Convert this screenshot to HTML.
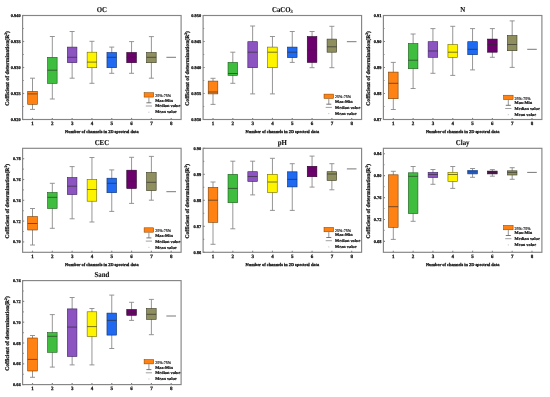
<!DOCTYPE html>
<html><head><meta charset="utf-8"><style>
html,body{margin:0;padding:0;background:#fff;width:550px;height:397px;overflow:hidden}
svg{will-change:transform}
svg text{text-rendering:geometricPrecision;font-family:"Liberation Serif",serif;fill:#111;stroke:#111;stroke-width:0.25px}
</style></head><body>
<svg width="550" height="397" viewBox="0 0 550 397" style="display:block">
<rect width="550" height="397" fill="#fff"/>
<g><text transform="translate(101.85,11.8) scale(0.9,1)" font-size="7.6" text-anchor="middle" font-weight="bold" style="stroke-width:0.12px">OC</text><text transform="translate(7.7,68.4) rotate(-90) scale(1,1.0)" font-size="5.6" text-anchor="middle" font-weight="bold" dominant-baseline="central">Cofficient of determination(R<tspan font-size="3.64" dy="-1.8">2</tspan><tspan dy="1.8">)</tspan></text><text transform="translate(101.85,131.9) scale(1.0,1)" font-size="4.35" text-anchor="middle" font-weight="bold" dominant-baseline="central">Number of channels in 2D spectral data</text><line x1="32.51" y1="78.2" x2="32.51" y2="109.4" stroke="#8a8a8a" stroke-width="0.9"/><line x1="30.01" y1="78.2" x2="35.01" y2="78.2" stroke="#8a8a8a" stroke-width="0.9"/><line x1="30.01" y1="109.4" x2="35.01" y2="109.4" stroke="#8a8a8a" stroke-width="0.9"/><rect x="27.71" y="91.4" width="9.6" height="12.9" fill="#ff8213" stroke="#7a3e00" stroke-width="0.6"/><line x1="27.71" y1="93.9" x2="37.31" y2="93.9" stroke="#2a2a2a" stroke-width="0.8" stroke-opacity="0.8"/><line x1="52.32" y1="36.5" x2="52.32" y2="99" stroke="#8a8a8a" stroke-width="0.9"/><line x1="49.82" y1="36.5" x2="54.82" y2="36.5" stroke="#8a8a8a" stroke-width="0.9"/><line x1="49.82" y1="99" x2="54.82" y2="99" stroke="#8a8a8a" stroke-width="0.9"/><rect x="47.52" y="57.3" width="9.6" height="26.1" fill="#3fbd3f" stroke="#1f5a1f" stroke-width="0.6"/><line x1="47.52" y1="70.2" x2="57.12" y2="70.2" stroke="#2a2a2a" stroke-width="0.8" stroke-opacity="0.8"/><line x1="72.13" y1="31.5" x2="72.13" y2="78.2" stroke="#8a8a8a" stroke-width="0.9"/><line x1="69.63" y1="31.5" x2="74.63" y2="31.5" stroke="#8a8a8a" stroke-width="0.9"/><line x1="69.63" y1="78.2" x2="74.63" y2="78.2" stroke="#8a8a8a" stroke-width="0.9"/><rect x="67.33" y="47.1" width="9.6" height="15.6" fill="#8c54c0" stroke="#3c2460" stroke-width="0.6"/><line x1="67.33" y1="57.3" x2="76.93" y2="57.3" stroke="#2a2a2a" stroke-width="0.8" stroke-opacity="0.8"/><line x1="91.94" y1="41.3" x2="91.94" y2="83.3" stroke="#8a8a8a" stroke-width="0.9"/><line x1="89.44" y1="41.3" x2="94.44" y2="41.3" stroke="#8a8a8a" stroke-width="0.9"/><line x1="89.44" y1="83.3" x2="94.44" y2="83.3" stroke="#8a8a8a" stroke-width="0.9"/><rect x="87.14" y="52.2" width="9.6" height="15.5" fill="#fff400" stroke="#6e6a00" stroke-width="0.6"/><line x1="87.14" y1="62.1" x2="96.74" y2="62.1" stroke="#2a2a2a" stroke-width="0.8" stroke-opacity="0.8"/><line x1="111.76" y1="47.1" x2="111.76" y2="73.3" stroke="#8a8a8a" stroke-width="0.9"/><line x1="109.26" y1="47.1" x2="114.26" y2="47.1" stroke="#8a8a8a" stroke-width="0.9"/><line x1="109.26" y1="73.3" x2="114.26" y2="73.3" stroke="#8a8a8a" stroke-width="0.9"/><rect x="106.96" y="52.5" width="9.6" height="15.2" fill="#1f6af0" stroke="#0c2f6e" stroke-width="0.6"/><line x1="106.96" y1="57.3" x2="116.56" y2="57.3" stroke="#2a2a2a" stroke-width="0.8" stroke-opacity="0.8"/><line x1="131.57" y1="41.6" x2="131.57" y2="73.3" stroke="#8a8a8a" stroke-width="0.9"/><line x1="129.07" y1="41.6" x2="134.07" y2="41.6" stroke="#8a8a8a" stroke-width="0.9"/><line x1="129.07" y1="73.3" x2="134.07" y2="73.3" stroke="#8a8a8a" stroke-width="0.9"/><rect x="126.77" y="52.5" width="9.6" height="10.2" fill="#6c006c" stroke="#2a002a" stroke-width="0.6"/><line x1="126.77" y1="57.3" x2="136.37" y2="57.3" stroke="#2a2a2a" stroke-width="0.8" stroke-opacity="0.8"/><line x1="151.38" y1="36.6" x2="151.38" y2="78.2" stroke="#8a8a8a" stroke-width="0.9"/><line x1="148.88" y1="36.6" x2="153.88" y2="36.6" stroke="#8a8a8a" stroke-width="0.9"/><line x1="148.88" y1="78.2" x2="153.88" y2="78.2" stroke="#8a8a8a" stroke-width="0.9"/><rect x="146.58" y="52.5" width="9.6" height="10.2" fill="#8e8e5e" stroke="#3c3c24" stroke-width="0.6"/><line x1="146.58" y1="57.3" x2="156.18" y2="57.3" stroke="#2a2a2a" stroke-width="0.8" stroke-opacity="0.8"/><line x1="166.39" y1="57.3" x2="175.99" y2="57.3" stroke="#555" stroke-width="0.8"/><rect x="22.6" y="15.5" width="158.5" height="104" fill="none" stroke="#858585" stroke-width="1.15"/><line x1="22.6" y1="119.5" x2="24.2" y2="119.5" stroke="#858585" stroke-width="1.15"/><text transform="translate(20.6,119.5) scale(1.0,1)" font-size="4.4" text-anchor="end" font-weight="bold" dominant-baseline="central">0.920</text><line x1="22.6" y1="93.5" x2="24.2" y2="93.5" stroke="#858585" stroke-width="1.15"/><text transform="translate(20.6,93.5) scale(1.0,1)" font-size="4.4" text-anchor="end" font-weight="bold" dominant-baseline="central">0.925</text><line x1="22.6" y1="67.5" x2="24.2" y2="67.5" stroke="#858585" stroke-width="1.15"/><text transform="translate(20.6,67.5) scale(1.0,1)" font-size="4.4" text-anchor="end" font-weight="bold" dominant-baseline="central">0.930</text><line x1="22.6" y1="41.5" x2="24.2" y2="41.5" stroke="#858585" stroke-width="1.15"/><text transform="translate(20.6,41.5) scale(1.0,1)" font-size="4.4" text-anchor="end" font-weight="bold" dominant-baseline="central">0.935</text><line x1="22.6" y1="15.5" x2="24.2" y2="15.5" stroke="#858585" stroke-width="1.15"/><text transform="translate(20.6,15.5) scale(1.0,1)" font-size="4.4" text-anchor="end" font-weight="bold" dominant-baseline="central">0.940</text><line x1="22.6" y1="106.5" x2="23.72" y2="106.5" stroke="#858585" stroke-width="1.15"/><line x1="22.6" y1="80.5" x2="23.72" y2="80.5" stroke="#858585" stroke-width="1.15"/><line x1="22.6" y1="54.5" x2="23.72" y2="54.5" stroke="#858585" stroke-width="1.15"/><line x1="22.6" y1="28.5" x2="23.72" y2="28.5" stroke="#858585" stroke-width="1.15"/><line x1="32.51" y1="119.5" x2="32.51" y2="117.9" stroke="#858585" stroke-width="1.15"/><text transform="translate(32.51,124.7) scale(1.0,1)" font-size="5.0" text-anchor="middle" font-weight="bold" dominant-baseline="central">1</text><line x1="52.32" y1="119.5" x2="52.32" y2="117.9" stroke="#858585" stroke-width="1.15"/><text transform="translate(52.32,124.7) scale(1.0,1)" font-size="5.0" text-anchor="middle" font-weight="bold" dominant-baseline="central">2</text><line x1="72.13" y1="119.5" x2="72.13" y2="117.9" stroke="#858585" stroke-width="1.15"/><text transform="translate(72.13,124.7) scale(1.0,1)" font-size="5.0" text-anchor="middle" font-weight="bold" dominant-baseline="central">3</text><line x1="91.94" y1="119.5" x2="91.94" y2="117.9" stroke="#858585" stroke-width="1.15"/><text transform="translate(91.94,124.7) scale(1.0,1)" font-size="5.0" text-anchor="middle" font-weight="bold" dominant-baseline="central">4</text><line x1="111.76" y1="119.5" x2="111.76" y2="117.9" stroke="#858585" stroke-width="1.15"/><text transform="translate(111.76,124.7) scale(1.0,1)" font-size="5.0" text-anchor="middle" font-weight="bold" dominant-baseline="central">5</text><line x1="131.57" y1="119.5" x2="131.57" y2="117.9" stroke="#858585" stroke-width="1.15"/><text transform="translate(131.57,124.7) scale(1.0,1)" font-size="5.0" text-anchor="middle" font-weight="bold" dominant-baseline="central">6</text><line x1="151.38" y1="119.5" x2="151.38" y2="117.9" stroke="#858585" stroke-width="1.15"/><text transform="translate(151.38,124.7) scale(1.0,1)" font-size="5.0" text-anchor="middle" font-weight="bold" dominant-baseline="central">7</text><line x1="171.19" y1="119.5" x2="171.19" y2="117.9" stroke="#858585" stroke-width="1.15"/><text transform="translate(171.19,124.7) scale(1.0,1)" font-size="5.0" text-anchor="middle" font-weight="bold" dominant-baseline="central">8</text><rect x="144.1" y="92.7" width="9.6" height="4.4" fill="#ff8213" stroke="#7a3e00" stroke-width="0.5"/><line x1="148.9" y1="97.3" x2="148.9" y2="102.8" stroke="#8a8a8a" stroke-width="0.9"/><line x1="146.4" y1="102.8" x2="151.4" y2="102.8" stroke="#666" stroke-width="0.9"/><line x1="145.8" y1="106" x2="152" y2="106" stroke="#777" stroke-width="0.7"/><rect x="148.4" y="111.7" width="1" height="1" fill="#bbb"/><text transform="translate(155.2,95.5) scale(1.0,1)" font-size="4.0" text-anchor="start" dominant-baseline="central" style="stroke-width:0.15px">25%-75%</text><text transform="translate(155.2,100.2) scale(1.0,1)" font-size="4.35" text-anchor="start" font-weight="bold" dominant-baseline="central" style="stroke-width:0.18px">Max-Min</text><text transform="translate(155.2,105.9) scale(1.0,1)" font-size="4.35" text-anchor="start" font-weight="bold" dominant-baseline="central" style="stroke-width:0.18px">Median value</text><text transform="translate(155.2,111.9) scale(1.0,1)" font-size="4.35" text-anchor="start" font-weight="bold" dominant-baseline="central" style="stroke-width:0.18px">Mean value</text></g>
<g><text transform="translate(282.35,11.8) scale(0.9,1)" font-size="7.6" text-anchor="middle" font-weight="bold" style="stroke-width:0.12px">CaCO<tspan font-size="4.94" dy="1.2">3</tspan></text><text transform="translate(188.2,68.4) rotate(-90) scale(1,1.0)" font-size="5.6" text-anchor="middle" font-weight="bold" dominant-baseline="central">Cofficient of determination(R<tspan font-size="3.64" dy="-1.8">2</tspan><tspan dy="1.8">)</tspan></text><text transform="translate(282.35,131.9) scale(1.0,1)" font-size="4.35" text-anchor="middle" font-weight="bold" dominant-baseline="central">Number of channels in 2D spectral data</text><line x1="213.01" y1="78.3" x2="213.01" y2="104.4" stroke="#8a8a8a" stroke-width="0.9"/><line x1="210.51" y1="78.3" x2="215.51" y2="78.3" stroke="#8a8a8a" stroke-width="0.9"/><line x1="210.51" y1="104.4" x2="215.51" y2="104.4" stroke="#8a8a8a" stroke-width="0.9"/><rect x="208.21" y="81.1" width="9.6" height="12.8" fill="#ff8213" stroke="#7a3e00" stroke-width="0.6"/><line x1="208.21" y1="92" x2="217.81" y2="92" stroke="#2a2a2a" stroke-width="0.8" stroke-opacity="0.8"/><line x1="232.82" y1="52.2" x2="232.82" y2="83.3" stroke="#8a8a8a" stroke-width="0.9"/><line x1="230.32" y1="52.2" x2="235.32" y2="52.2" stroke="#8a8a8a" stroke-width="0.9"/><line x1="230.32" y1="83.3" x2="235.32" y2="83.3" stroke="#8a8a8a" stroke-width="0.9"/><rect x="228.02" y="62.4" width="9.6" height="13" fill="#3fbd3f" stroke="#1f5a1f" stroke-width="0.6"/><line x1="228.02" y1="73.5" x2="237.62" y2="73.5" stroke="#2a2a2a" stroke-width="0.8" stroke-opacity="0.8"/><line x1="252.63" y1="26" x2="252.63" y2="93.9" stroke="#8a8a8a" stroke-width="0.9"/><line x1="250.13" y1="26" x2="255.13" y2="26" stroke="#8a8a8a" stroke-width="0.9"/><line x1="250.13" y1="93.9" x2="255.13" y2="93.9" stroke="#8a8a8a" stroke-width="0.9"/><rect x="247.83" y="41.7" width="9.6" height="26" fill="#8c54c0" stroke="#3c2460" stroke-width="0.6"/><line x1="247.83" y1="52.2" x2="257.43" y2="52.2" stroke="#2a2a2a" stroke-width="0.8" stroke-opacity="0.8"/><line x1="272.44" y1="36.5" x2="272.44" y2="93.9" stroke="#8a8a8a" stroke-width="0.9"/><line x1="269.94" y1="36.5" x2="274.94" y2="36.5" stroke="#8a8a8a" stroke-width="0.9"/><line x1="269.94" y1="93.9" x2="274.94" y2="93.9" stroke="#8a8a8a" stroke-width="0.9"/><rect x="267.64" y="47.1" width="9.6" height="20.6" fill="#fff400" stroke="#6e6a00" stroke-width="0.6"/><line x1="267.64" y1="52.2" x2="277.24" y2="52.2" stroke="#2a2a2a" stroke-width="0.8" stroke-opacity="0.8"/><line x1="292.26" y1="31.5" x2="292.26" y2="62.4" stroke="#8a8a8a" stroke-width="0.9"/><line x1="289.76" y1="31.5" x2="294.76" y2="31.5" stroke="#8a8a8a" stroke-width="0.9"/><line x1="289.76" y1="62.4" x2="294.76" y2="62.4" stroke="#8a8a8a" stroke-width="0.9"/><rect x="287.46" y="47.1" width="9.6" height="10.5" fill="#1f6af0" stroke="#0c2f6e" stroke-width="0.6"/><line x1="287.46" y1="52.2" x2="297.06" y2="52.2" stroke="#2a2a2a" stroke-width="0.8" stroke-opacity="0.8"/><line x1="312.07" y1="31.5" x2="312.07" y2="67.7" stroke="#8a8a8a" stroke-width="0.9"/><line x1="309.57" y1="31.5" x2="314.57" y2="31.5" stroke="#8a8a8a" stroke-width="0.9"/><line x1="309.57" y1="67.7" x2="314.57" y2="67.7" stroke="#8a8a8a" stroke-width="0.9"/><rect x="307.27" y="36.6" width="9.6" height="25.8" fill="#6c006c" stroke="#2a002a" stroke-width="0.6"/><line x1="307.27" y1="49.6" x2="316.87" y2="49.6" stroke="#2a2a2a" stroke-width="0.8" stroke-opacity="0.8"/><line x1="331.88" y1="26.3" x2="331.88" y2="67.7" stroke="#8a8a8a" stroke-width="0.9"/><line x1="329.38" y1="26.3" x2="334.38" y2="26.3" stroke="#8a8a8a" stroke-width="0.9"/><line x1="329.38" y1="67.7" x2="334.38" y2="67.7" stroke="#8a8a8a" stroke-width="0.9"/><rect x="327.08" y="39.1" width="9.6" height="13.1" fill="#8e8e5e" stroke="#3c3c24" stroke-width="0.6"/><line x1="327.08" y1="46.8" x2="336.68" y2="46.8" stroke="#2a2a2a" stroke-width="0.8" stroke-opacity="0.8"/><line x1="346.89" y1="41.7" x2="356.49" y2="41.7" stroke="#555" stroke-width="0.8"/><rect x="203.1" y="15.5" width="158.5" height="104" fill="none" stroke="#858585" stroke-width="1.15"/><line x1="203.1" y1="119.5" x2="204.7" y2="119.5" stroke="#858585" stroke-width="1.15"/><text transform="translate(201.1,119.5) scale(1.0,1)" font-size="4.4" text-anchor="end" font-weight="bold" dominant-baseline="central">0.930</text><line x1="203.1" y1="93.5" x2="204.7" y2="93.5" stroke="#858585" stroke-width="1.15"/><text transform="translate(201.1,93.5) scale(1.0,1)" font-size="4.4" text-anchor="end" font-weight="bold" dominant-baseline="central">0.935</text><line x1="203.1" y1="67.5" x2="204.7" y2="67.5" stroke="#858585" stroke-width="1.15"/><text transform="translate(201.1,67.5) scale(1.0,1)" font-size="4.4" text-anchor="end" font-weight="bold" dominant-baseline="central">0.940</text><line x1="203.1" y1="41.5" x2="204.7" y2="41.5" stroke="#858585" stroke-width="1.15"/><text transform="translate(201.1,41.5) scale(1.0,1)" font-size="4.4" text-anchor="end" font-weight="bold" dominant-baseline="central">0.945</text><line x1="203.1" y1="15.5" x2="204.7" y2="15.5" stroke="#858585" stroke-width="1.15"/><text transform="translate(201.1,15.5) scale(1.0,1)" font-size="4.4" text-anchor="end" font-weight="bold" dominant-baseline="central">0.950</text><line x1="203.1" y1="106.5" x2="204.22" y2="106.5" stroke="#858585" stroke-width="1.15"/><line x1="203.1" y1="80.5" x2="204.22" y2="80.5" stroke="#858585" stroke-width="1.15"/><line x1="203.1" y1="54.5" x2="204.22" y2="54.5" stroke="#858585" stroke-width="1.15"/><line x1="203.1" y1="28.5" x2="204.22" y2="28.5" stroke="#858585" stroke-width="1.15"/><line x1="213.01" y1="119.5" x2="213.01" y2="117.9" stroke="#858585" stroke-width="1.15"/><text transform="translate(213.01,124.7) scale(1.0,1)" font-size="5.0" text-anchor="middle" font-weight="bold" dominant-baseline="central">1</text><line x1="232.82" y1="119.5" x2="232.82" y2="117.9" stroke="#858585" stroke-width="1.15"/><text transform="translate(232.82,124.7) scale(1.0,1)" font-size="5.0" text-anchor="middle" font-weight="bold" dominant-baseline="central">2</text><line x1="252.63" y1="119.5" x2="252.63" y2="117.9" stroke="#858585" stroke-width="1.15"/><text transform="translate(252.63,124.7) scale(1.0,1)" font-size="5.0" text-anchor="middle" font-weight="bold" dominant-baseline="central">3</text><line x1="272.44" y1="119.5" x2="272.44" y2="117.9" stroke="#858585" stroke-width="1.15"/><text transform="translate(272.44,124.7) scale(1.0,1)" font-size="5.0" text-anchor="middle" font-weight="bold" dominant-baseline="central">4</text><line x1="292.26" y1="119.5" x2="292.26" y2="117.9" stroke="#858585" stroke-width="1.15"/><text transform="translate(292.26,124.7) scale(1.0,1)" font-size="5.0" text-anchor="middle" font-weight="bold" dominant-baseline="central">5</text><line x1="312.07" y1="119.5" x2="312.07" y2="117.9" stroke="#858585" stroke-width="1.15"/><text transform="translate(312.07,124.7) scale(1.0,1)" font-size="5.0" text-anchor="middle" font-weight="bold" dominant-baseline="central">6</text><line x1="331.88" y1="119.5" x2="331.88" y2="117.9" stroke="#858585" stroke-width="1.15"/><text transform="translate(331.88,124.7) scale(1.0,1)" font-size="5.0" text-anchor="middle" font-weight="bold" dominant-baseline="central">7</text><line x1="351.69" y1="119.5" x2="351.69" y2="117.9" stroke="#858585" stroke-width="1.15"/><text transform="translate(351.69,124.7) scale(1.0,1)" font-size="5.0" text-anchor="middle" font-weight="bold" dominant-baseline="central">8</text><rect x="324" y="94.1" width="9.6" height="4.4" fill="#ff8213" stroke="#7a3e00" stroke-width="0.5"/><line x1="328.8" y1="98.7" x2="328.8" y2="104.2" stroke="#8a8a8a" stroke-width="0.9"/><line x1="326.3" y1="104.2" x2="331.3" y2="104.2" stroke="#666" stroke-width="0.9"/><line x1="325.7" y1="107.4" x2="331.9" y2="107.4" stroke="#777" stroke-width="0.7"/><rect x="328.3" y="113.1" width="1" height="1" fill="#bbb"/><text transform="translate(335.1,96.9) scale(1.0,1)" font-size="4.0" text-anchor="start" dominant-baseline="central" style="stroke-width:0.15px">25%-75%</text><text transform="translate(335.1,101.6) scale(1.0,1)" font-size="4.35" text-anchor="start" font-weight="bold" dominant-baseline="central" style="stroke-width:0.18px">Max-Min</text><text transform="translate(335.1,107.3) scale(1.0,1)" font-size="4.35" text-anchor="start" font-weight="bold" dominant-baseline="central" style="stroke-width:0.18px">Median value</text><text transform="translate(335.1,113.3) scale(1.0,1)" font-size="4.35" text-anchor="start" font-weight="bold" dominant-baseline="central" style="stroke-width:0.18px">Mean value</text></g>
<g><text transform="translate(462.65,11.8) scale(0.9,1)" font-size="7.6" text-anchor="middle" font-weight="bold" style="stroke-width:0.12px">N</text><text transform="translate(368.5,68.4) rotate(-90) scale(1,1.0)" font-size="5.6" text-anchor="middle" font-weight="bold" dominant-baseline="central">Cofficient of determination(R<tspan font-size="3.64" dy="-1.8">2</tspan><tspan dy="1.8">)</tspan></text><text transform="translate(462.65,131.9) scale(1.0,1)" font-size="4.35" text-anchor="middle" font-weight="bold" dominant-baseline="central">Number of channels in 2D spectral data</text><line x1="393.31" y1="62.4" x2="393.31" y2="109.5" stroke="#8a8a8a" stroke-width="0.9"/><line x1="390.81" y1="62.4" x2="395.81" y2="62.4" stroke="#8a8a8a" stroke-width="0.9"/><line x1="390.81" y1="109.5" x2="395.81" y2="109.5" stroke="#8a8a8a" stroke-width="0.9"/><rect x="388.51" y="72.1" width="9.6" height="26.6" fill="#ff8213" stroke="#7a3e00" stroke-width="0.6"/><line x1="388.51" y1="83.3" x2="398.11" y2="83.3" stroke="#2a2a2a" stroke-width="0.8" stroke-opacity="0.8"/><line x1="413.12" y1="34" x2="413.12" y2="88.5" stroke="#8a8a8a" stroke-width="0.9"/><line x1="410.62" y1="34" x2="415.62" y2="34" stroke="#8a8a8a" stroke-width="0.9"/><line x1="410.62" y1="88.5" x2="415.62" y2="88.5" stroke="#8a8a8a" stroke-width="0.9"/><rect x="408.32" y="43.5" width="9.6" height="25.2" fill="#3fbd3f" stroke="#1f5a1f" stroke-width="0.6"/><line x1="408.32" y1="60.2" x2="417.92" y2="60.2" stroke="#2a2a2a" stroke-width="0.8" stroke-opacity="0.8"/><line x1="432.93" y1="28.6" x2="432.93" y2="73.3" stroke="#8a8a8a" stroke-width="0.9"/><line x1="430.43" y1="28.6" x2="435.43" y2="28.6" stroke="#8a8a8a" stroke-width="0.9"/><line x1="430.43" y1="73.3" x2="435.43" y2="73.3" stroke="#8a8a8a" stroke-width="0.9"/><rect x="428.13" y="41.7" width="9.6" height="15.6" fill="#8c54c0" stroke="#3c2460" stroke-width="0.6"/><line x1="428.13" y1="51" x2="437.73" y2="51" stroke="#2a2a2a" stroke-width="0.8" stroke-opacity="0.8"/><line x1="452.74" y1="26.3" x2="452.74" y2="75.4" stroke="#8a8a8a" stroke-width="0.9"/><line x1="450.24" y1="26.3" x2="455.24" y2="26.3" stroke="#8a8a8a" stroke-width="0.9"/><line x1="450.24" y1="75.4" x2="455.24" y2="75.4" stroke="#8a8a8a" stroke-width="0.9"/><rect x="447.94" y="44.6" width="9.6" height="12.7" fill="#fff400" stroke="#6e6a00" stroke-width="0.6"/><line x1="447.94" y1="52.2" x2="457.54" y2="52.2" stroke="#2a2a2a" stroke-width="0.8" stroke-opacity="0.8"/><line x1="472.56" y1="28.6" x2="472.56" y2="69.9" stroke="#8a8a8a" stroke-width="0.9"/><line x1="470.06" y1="28.6" x2="475.06" y2="28.6" stroke="#8a8a8a" stroke-width="0.9"/><line x1="470.06" y1="69.9" x2="475.06" y2="69.9" stroke="#8a8a8a" stroke-width="0.9"/><rect x="467.76" y="41.7" width="9.6" height="13" fill="#1f6af0" stroke="#0c2f6e" stroke-width="0.6"/><line x1="467.76" y1="49.3" x2="477.36" y2="49.3" stroke="#2a2a2a" stroke-width="0.8" stroke-opacity="0.8"/><line x1="492.37" y1="28.6" x2="492.37" y2="57.3" stroke="#8a8a8a" stroke-width="0.9"/><line x1="489.87" y1="28.6" x2="494.87" y2="28.6" stroke="#8a8a8a" stroke-width="0.9"/><line x1="489.87" y1="57.3" x2="494.87" y2="57.3" stroke="#8a8a8a" stroke-width="0.9"/><rect x="487.57" y="39.1" width="9.6" height="13.1" fill="#6c006c" stroke="#2a002a" stroke-width="0.6"/><line x1="487.57" y1="44.5" x2="497.17" y2="44.5" stroke="#2a2a2a" stroke-width="0.8" stroke-opacity="0.8"/><line x1="512.18" y1="20.9" x2="512.18" y2="67.4" stroke="#8a8a8a" stroke-width="0.9"/><line x1="509.68" y1="20.9" x2="514.68" y2="20.9" stroke="#8a8a8a" stroke-width="0.9"/><line x1="509.68" y1="67.4" x2="514.68" y2="67.4" stroke="#8a8a8a" stroke-width="0.9"/><rect x="507.38" y="35.5" width="9.6" height="15.2" fill="#8e8e5e" stroke="#3c3c24" stroke-width="0.6"/><line x1="507.38" y1="44.5" x2="516.98" y2="44.5" stroke="#2a2a2a" stroke-width="0.8" stroke-opacity="0.8"/><line x1="527.19" y1="49.3" x2="536.79" y2="49.3" stroke="#555" stroke-width="0.8"/><rect x="383.4" y="15.5" width="158.5" height="104" fill="none" stroke="#858585" stroke-width="1.15"/><line x1="383.4" y1="119.5" x2="385" y2="119.5" stroke="#858585" stroke-width="1.15"/><text transform="translate(381.4,119.5) scale(1.0,1)" font-size="4.4" text-anchor="end" font-weight="bold" dominant-baseline="central">0.87</text><line x1="383.4" y1="93.5" x2="385" y2="93.5" stroke="#858585" stroke-width="1.15"/><text transform="translate(381.4,93.5) scale(1.0,1)" font-size="4.4" text-anchor="end" font-weight="bold" dominant-baseline="central">0.88</text><line x1="383.4" y1="67.5" x2="385" y2="67.5" stroke="#858585" stroke-width="1.15"/><text transform="translate(381.4,67.5) scale(1.0,1)" font-size="4.4" text-anchor="end" font-weight="bold" dominant-baseline="central">0.89</text><line x1="383.4" y1="41.5" x2="385" y2="41.5" stroke="#858585" stroke-width="1.15"/><text transform="translate(381.4,41.5) scale(1.0,1)" font-size="4.4" text-anchor="end" font-weight="bold" dominant-baseline="central">0.90</text><line x1="383.4" y1="15.5" x2="385" y2="15.5" stroke="#858585" stroke-width="1.15"/><text transform="translate(381.4,15.5) scale(1.0,1)" font-size="4.4" text-anchor="end" font-weight="bold" dominant-baseline="central">0.91</text><line x1="383.4" y1="106.5" x2="384.52" y2="106.5" stroke="#858585" stroke-width="1.15"/><line x1="383.4" y1="80.5" x2="384.52" y2="80.5" stroke="#858585" stroke-width="1.15"/><line x1="383.4" y1="54.5" x2="384.52" y2="54.5" stroke="#858585" stroke-width="1.15"/><line x1="383.4" y1="28.5" x2="384.52" y2="28.5" stroke="#858585" stroke-width="1.15"/><line x1="393.31" y1="119.5" x2="393.31" y2="117.9" stroke="#858585" stroke-width="1.15"/><text transform="translate(393.31,124.7) scale(1.0,1)" font-size="5.0" text-anchor="middle" font-weight="bold" dominant-baseline="central">1</text><line x1="413.12" y1="119.5" x2="413.12" y2="117.9" stroke="#858585" stroke-width="1.15"/><text transform="translate(413.12,124.7) scale(1.0,1)" font-size="5.0" text-anchor="middle" font-weight="bold" dominant-baseline="central">2</text><line x1="432.93" y1="119.5" x2="432.93" y2="117.9" stroke="#858585" stroke-width="1.15"/><text transform="translate(432.93,124.7) scale(1.0,1)" font-size="5.0" text-anchor="middle" font-weight="bold" dominant-baseline="central">3</text><line x1="452.74" y1="119.5" x2="452.74" y2="117.9" stroke="#858585" stroke-width="1.15"/><text transform="translate(452.74,124.7) scale(1.0,1)" font-size="5.0" text-anchor="middle" font-weight="bold" dominant-baseline="central">4</text><line x1="472.56" y1="119.5" x2="472.56" y2="117.9" stroke="#858585" stroke-width="1.15"/><text transform="translate(472.56,124.7) scale(1.0,1)" font-size="5.0" text-anchor="middle" font-weight="bold" dominant-baseline="central">5</text><line x1="492.37" y1="119.5" x2="492.37" y2="117.9" stroke="#858585" stroke-width="1.15"/><text transform="translate(492.37,124.7) scale(1.0,1)" font-size="5.0" text-anchor="middle" font-weight="bold" dominant-baseline="central">6</text><line x1="512.18" y1="119.5" x2="512.18" y2="117.9" stroke="#858585" stroke-width="1.15"/><text transform="translate(512.18,124.7) scale(1.0,1)" font-size="5.0" text-anchor="middle" font-weight="bold" dominant-baseline="central">7</text><line x1="531.99" y1="119.5" x2="531.99" y2="117.9" stroke="#858585" stroke-width="1.15"/><text transform="translate(531.99,124.7) scale(1.0,1)" font-size="5.0" text-anchor="middle" font-weight="bold" dominant-baseline="central">8</text><rect x="503.5" y="95.2" width="9.6" height="4.4" fill="#ff8213" stroke="#7a3e00" stroke-width="0.5"/><line x1="508.3" y1="99.8" x2="508.3" y2="105.3" stroke="#8a8a8a" stroke-width="0.9"/><line x1="505.8" y1="105.3" x2="510.8" y2="105.3" stroke="#666" stroke-width="0.9"/><line x1="505.2" y1="108.5" x2="511.4" y2="108.5" stroke="#777" stroke-width="0.7"/><rect x="507.8" y="114.2" width="1" height="1" fill="#bbb"/><text transform="translate(514.6,98) scale(1.0,1)" font-size="4.0" text-anchor="start" dominant-baseline="central" style="stroke-width:0.15px">25%-75%</text><text transform="translate(514.6,102.7) scale(1.0,1)" font-size="4.35" text-anchor="start" font-weight="bold" dominant-baseline="central" style="stroke-width:0.18px">Max-Min</text><text transform="translate(514.6,108.4) scale(1.0,1)" font-size="4.35" text-anchor="start" font-weight="bold" dominant-baseline="central" style="stroke-width:0.18px">Median value</text><text transform="translate(514.6,114.4) scale(1.0,1)" font-size="4.35" text-anchor="start" font-weight="bold" dominant-baseline="central" style="stroke-width:0.18px">Mean value</text></g>
<g><text transform="translate(101.85,144.6) scale(0.9,1)" font-size="7.6" text-anchor="middle" font-weight="bold" style="stroke-width:0.12px">CEC</text><text transform="translate(7.7,201.2) rotate(-90) scale(1,1.0)" font-size="5.6" text-anchor="middle" font-weight="bold" dominant-baseline="central">Cofficient of determination(R<tspan font-size="3.64" dy="-1.8">2</tspan><tspan dy="1.8">)</tspan></text><text transform="translate(101.85,264.2) scale(1.0,1)" font-size="4.35" text-anchor="middle" font-weight="bold" dominant-baseline="central">Number of channels in 2D spectral data</text><line x1="32.51" y1="208.5" x2="32.51" y2="245" stroke="#8a8a8a" stroke-width="0.9"/><line x1="30.01" y1="208.5" x2="35.01" y2="208.5" stroke="#8a8a8a" stroke-width="0.9"/><line x1="30.01" y1="245" x2="35.01" y2="245" stroke="#8a8a8a" stroke-width="0.9"/><rect x="27.71" y="216.6" width="9.6" height="13.4" fill="#ff8213" stroke="#7a3e00" stroke-width="0.6"/><line x1="27.71" y1="223.5" x2="37.31" y2="223.5" stroke="#2a2a2a" stroke-width="0.8" stroke-opacity="0.8"/><line x1="52.32" y1="183.3" x2="52.32" y2="228.3" stroke="#8a8a8a" stroke-width="0.9"/><line x1="49.82" y1="183.3" x2="54.82" y2="183.3" stroke="#8a8a8a" stroke-width="0.9"/><line x1="49.82" y1="228.3" x2="54.82" y2="228.3" stroke="#8a8a8a" stroke-width="0.9"/><rect x="47.52" y="192.5" width="9.6" height="16" fill="#3fbd3f" stroke="#1f5a1f" stroke-width="0.6"/><line x1="47.52" y1="197.3" x2="57.12" y2="197.3" stroke="#2a2a2a" stroke-width="0.8" stroke-opacity="0.8"/><line x1="72.13" y1="166.6" x2="72.13" y2="218.8" stroke="#8a8a8a" stroke-width="0.9"/><line x1="69.63" y1="166.6" x2="74.63" y2="166.6" stroke="#8a8a8a" stroke-width="0.9"/><line x1="69.63" y1="218.8" x2="74.63" y2="218.8" stroke="#8a8a8a" stroke-width="0.9"/><rect x="67.33" y="177.5" width="9.6" height="17.1" fill="#8c54c0" stroke="#3c2460" stroke-width="0.6"/><line x1="67.33" y1="186.2" x2="76.93" y2="186.2" stroke="#2a2a2a" stroke-width="0.8" stroke-opacity="0.8"/><line x1="91.94" y1="157.5" x2="91.94" y2="222" stroke="#8a8a8a" stroke-width="0.9"/><line x1="89.44" y1="157.5" x2="94.44" y2="157.5" stroke="#8a8a8a" stroke-width="0.9"/><line x1="89.44" y1="222" x2="94.44" y2="222" stroke="#8a8a8a" stroke-width="0.9"/><rect x="87.14" y="179.4" width="9.6" height="21.8" fill="#fff400" stroke="#6e6a00" stroke-width="0.6"/><line x1="87.14" y1="189.5" x2="96.74" y2="189.5" stroke="#2a2a2a" stroke-width="0.8" stroke-opacity="0.8"/><line x1="111.76" y1="169.9" x2="111.76" y2="211.4" stroke="#8a8a8a" stroke-width="0.9"/><line x1="109.26" y1="169.9" x2="114.26" y2="169.9" stroke="#8a8a8a" stroke-width="0.9"/><line x1="109.26" y1="211.4" x2="114.26" y2="211.4" stroke="#8a8a8a" stroke-width="0.9"/><rect x="106.96" y="178.2" width="9.6" height="14.5" fill="#1f6af0" stroke="#0c2f6e" stroke-width="0.6"/><line x1="106.96" y1="183.3" x2="116.56" y2="183.3" stroke="#2a2a2a" stroke-width="0.8" stroke-opacity="0.8"/><line x1="131.57" y1="157.3" x2="131.57" y2="203.4" stroke="#8a8a8a" stroke-width="0.9"/><line x1="129.07" y1="157.3" x2="134.07" y2="157.3" stroke="#8a8a8a" stroke-width="0.9"/><line x1="129.07" y1="203.4" x2="134.07" y2="203.4" stroke="#8a8a8a" stroke-width="0.9"/><rect x="126.77" y="170.2" width="9.6" height="18.3" fill="#6c006c" stroke="#2a002a" stroke-width="0.6"/><line x1="126.77" y1="181.3" x2="136.37" y2="181.3" stroke="#2a2a2a" stroke-width="0.8" stroke-opacity="0.8"/><line x1="151.38" y1="156.4" x2="151.38" y2="200.2" stroke="#8a8a8a" stroke-width="0.9"/><line x1="148.88" y1="156.4" x2="153.88" y2="156.4" stroke="#8a8a8a" stroke-width="0.9"/><line x1="148.88" y1="200.2" x2="153.88" y2="200.2" stroke="#8a8a8a" stroke-width="0.9"/><rect x="146.58" y="172.4" width="9.6" height="18.2" fill="#8e8e5e" stroke="#3c3c24" stroke-width="0.6"/><line x1="146.58" y1="182.3" x2="156.18" y2="182.3" stroke="#2a2a2a" stroke-width="0.8" stroke-opacity="0.8"/><line x1="166.39" y1="191.7" x2="175.99" y2="191.7" stroke="#555" stroke-width="0.8"/><rect x="22.6" y="148.3" width="158.5" height="104" fill="none" stroke="#858585" stroke-width="1.15"/><line x1="22.6" y1="241.9" x2="24.2" y2="241.9" stroke="#858585" stroke-width="1.15"/><text transform="translate(20.6,241.9) scale(1.0,1)" font-size="4.4" text-anchor="end" font-weight="bold" dominant-baseline="central">0.70</text><line x1="22.6" y1="221.1" x2="24.2" y2="221.1" stroke="#858585" stroke-width="1.15"/><text transform="translate(20.6,221.1) scale(1.0,1)" font-size="4.4" text-anchor="end" font-weight="bold" dominant-baseline="central">0.72</text><line x1="22.6" y1="200.3" x2="24.2" y2="200.3" stroke="#858585" stroke-width="1.15"/><text transform="translate(20.6,200.3) scale(1.0,1)" font-size="4.4" text-anchor="end" font-weight="bold" dominant-baseline="central">0.74</text><line x1="22.6" y1="179.5" x2="24.2" y2="179.5" stroke="#858585" stroke-width="1.15"/><text transform="translate(20.6,179.5) scale(1.0,1)" font-size="4.4" text-anchor="end" font-weight="bold" dominant-baseline="central">0.76</text><line x1="22.6" y1="158.7" x2="24.2" y2="158.7" stroke="#858585" stroke-width="1.15"/><text transform="translate(20.6,158.7) scale(1.0,1)" font-size="4.4" text-anchor="end" font-weight="bold" dominant-baseline="central">0.78</text><line x1="22.6" y1="231.5" x2="23.72" y2="231.5" stroke="#858585" stroke-width="1.15"/><line x1="22.6" y1="210.7" x2="23.72" y2="210.7" stroke="#858585" stroke-width="1.15"/><line x1="22.6" y1="189.9" x2="23.72" y2="189.9" stroke="#858585" stroke-width="1.15"/><line x1="22.6" y1="169.1" x2="23.72" y2="169.1" stroke="#858585" stroke-width="1.15"/><line x1="32.51" y1="252.3" x2="32.51" y2="250.7" stroke="#858585" stroke-width="1.15"/><text transform="translate(32.51,257) scale(1.0,1)" font-size="5.0" text-anchor="middle" font-weight="bold" dominant-baseline="central">1</text><line x1="52.32" y1="252.3" x2="52.32" y2="250.7" stroke="#858585" stroke-width="1.15"/><text transform="translate(52.32,257) scale(1.0,1)" font-size="5.0" text-anchor="middle" font-weight="bold" dominant-baseline="central">2</text><line x1="72.13" y1="252.3" x2="72.13" y2="250.7" stroke="#858585" stroke-width="1.15"/><text transform="translate(72.13,257) scale(1.0,1)" font-size="5.0" text-anchor="middle" font-weight="bold" dominant-baseline="central">3</text><line x1="91.94" y1="252.3" x2="91.94" y2="250.7" stroke="#858585" stroke-width="1.15"/><text transform="translate(91.94,257) scale(1.0,1)" font-size="5.0" text-anchor="middle" font-weight="bold" dominant-baseline="central">4</text><line x1="111.76" y1="252.3" x2="111.76" y2="250.7" stroke="#858585" stroke-width="1.15"/><text transform="translate(111.76,257) scale(1.0,1)" font-size="5.0" text-anchor="middle" font-weight="bold" dominant-baseline="central">5</text><line x1="131.57" y1="252.3" x2="131.57" y2="250.7" stroke="#858585" stroke-width="1.15"/><text transform="translate(131.57,257) scale(1.0,1)" font-size="5.0" text-anchor="middle" font-weight="bold" dominant-baseline="central">6</text><line x1="151.38" y1="252.3" x2="151.38" y2="250.7" stroke="#858585" stroke-width="1.15"/><text transform="translate(151.38,257) scale(1.0,1)" font-size="5.0" text-anchor="middle" font-weight="bold" dominant-baseline="central">7</text><line x1="171.19" y1="252.3" x2="171.19" y2="250.7" stroke="#858585" stroke-width="1.15"/><text transform="translate(171.19,257) scale(1.0,1)" font-size="5.0" text-anchor="middle" font-weight="bold" dominant-baseline="central">8</text><rect x="144.1" y="227.8" width="9.6" height="4.4" fill="#ff8213" stroke="#7a3e00" stroke-width="0.5"/><line x1="148.9" y1="232.4" x2="148.9" y2="237.9" stroke="#8a8a8a" stroke-width="0.9"/><line x1="146.4" y1="237.9" x2="151.4" y2="237.9" stroke="#666" stroke-width="0.9"/><line x1="145.8" y1="241.1" x2="152" y2="241.1" stroke="#777" stroke-width="0.7"/><rect x="148.4" y="246.8" width="1" height="1" fill="#bbb"/><text transform="translate(155.2,230.6) scale(1.0,1)" font-size="4.0" text-anchor="start" dominant-baseline="central" style="stroke-width:0.15px">25%-75%</text><text transform="translate(155.2,235.3) scale(1.0,1)" font-size="4.35" text-anchor="start" font-weight="bold" dominant-baseline="central" style="stroke-width:0.18px">Max-Min</text><text transform="translate(155.2,241) scale(1.0,1)" font-size="4.35" text-anchor="start" font-weight="bold" dominant-baseline="central" style="stroke-width:0.18px">Median value</text><text transform="translate(155.2,247) scale(1.0,1)" font-size="4.35" text-anchor="start" font-weight="bold" dominant-baseline="central" style="stroke-width:0.18px">Mean value</text></g>
<g><text transform="translate(282.35,144.6) scale(0.9,1)" font-size="7.6" text-anchor="middle" font-weight="bold" style="stroke-width:0.12px">pH</text><text transform="translate(188.2,201.2) rotate(-90) scale(1,1.0)" font-size="5.6" text-anchor="middle" font-weight="bold" dominant-baseline="central">Cofficient of determination(R<tspan font-size="3.64" dy="-1.8">2</tspan><tspan dy="1.8">)</tspan></text><text transform="translate(282.35,264.2) scale(1.0,1)" font-size="4.35" text-anchor="middle" font-weight="bold" dominant-baseline="central">Number of channels in 2D spectral data</text><line x1="213.01" y1="182" x2="213.01" y2="244.3" stroke="#8a8a8a" stroke-width="0.9"/><line x1="210.51" y1="182" x2="215.51" y2="182" stroke="#8a8a8a" stroke-width="0.9"/><line x1="210.51" y1="244.3" x2="215.51" y2="244.3" stroke="#8a8a8a" stroke-width="0.9"/><rect x="208.21" y="187.4" width="9.6" height="34.9" fill="#ff8213" stroke="#7a3e00" stroke-width="0.6"/><line x1="208.21" y1="200.2" x2="217.81" y2="200.2" stroke="#2a2a2a" stroke-width="0.8" stroke-opacity="0.8"/><line x1="232.82" y1="161.2" x2="232.82" y2="228.8" stroke="#8a8a8a" stroke-width="0.9"/><line x1="230.32" y1="161.2" x2="235.32" y2="161.2" stroke="#8a8a8a" stroke-width="0.9"/><line x1="230.32" y1="228.8" x2="235.32" y2="228.8" stroke="#8a8a8a" stroke-width="0.9"/><rect x="228.02" y="174.3" width="9.6" height="28.4" fill="#3fbd3f" stroke="#1f5a1f" stroke-width="0.6"/><line x1="228.02" y1="188.4" x2="237.62" y2="188.4" stroke="#2a2a2a" stroke-width="0.8" stroke-opacity="0.8"/><line x1="252.63" y1="161.2" x2="252.63" y2="194.9" stroke="#8a8a8a" stroke-width="0.9"/><line x1="250.13" y1="161.2" x2="255.13" y2="161.2" stroke="#8a8a8a" stroke-width="0.9"/><line x1="250.13" y1="194.9" x2="255.13" y2="194.9" stroke="#8a8a8a" stroke-width="0.9"/><rect x="247.83" y="171.7" width="9.6" height="9.8" fill="#8c54c0" stroke="#3c2460" stroke-width="0.6"/><line x1="247.83" y1="176.5" x2="257.43" y2="176.5" stroke="#2a2a2a" stroke-width="0.8" stroke-opacity="0.8"/><line x1="272.44" y1="158.3" x2="272.44" y2="210.4" stroke="#8a8a8a" stroke-width="0.9"/><line x1="269.94" y1="158.3" x2="274.94" y2="158.3" stroke="#8a8a8a" stroke-width="0.9"/><line x1="269.94" y1="210.4" x2="274.94" y2="210.4" stroke="#8a8a8a" stroke-width="0.9"/><rect x="267.64" y="174.3" width="9.6" height="18.2" fill="#fff400" stroke="#6e6a00" stroke-width="0.6"/><line x1="267.64" y1="182" x2="277.24" y2="182" stroke="#2a2a2a" stroke-width="0.8" stroke-opacity="0.8"/><line x1="292.26" y1="163.7" x2="292.26" y2="210.4" stroke="#8a8a8a" stroke-width="0.9"/><line x1="289.76" y1="163.7" x2="294.76" y2="163.7" stroke="#8a8a8a" stroke-width="0.9"/><line x1="289.76" y1="210.4" x2="294.76" y2="210.4" stroke="#8a8a8a" stroke-width="0.9"/><rect x="287.46" y="171.8" width="9.6" height="15.1" fill="#1f6af0" stroke="#0c2f6e" stroke-width="0.6"/><line x1="287.46" y1="179.4" x2="297.06" y2="179.4" stroke="#2a2a2a" stroke-width="0.8" stroke-opacity="0.8"/><line x1="312.07" y1="156.1" x2="312.07" y2="187.1" stroke="#8a8a8a" stroke-width="0.9"/><line x1="309.57" y1="156.1" x2="314.57" y2="156.1" stroke="#8a8a8a" stroke-width="0.9"/><line x1="309.57" y1="187.1" x2="314.57" y2="187.1" stroke="#8a8a8a" stroke-width="0.9"/><rect x="307.27" y="166.3" width="9.6" height="10.4" fill="#6c006c" stroke="#2a002a" stroke-width="0.6"/><line x1="307.27" y1="171.4" x2="316.87" y2="171.4" stroke="#2a2a2a" stroke-width="0.8" stroke-opacity="0.8"/><line x1="331.88" y1="163.7" x2="331.88" y2="189.8" stroke="#8a8a8a" stroke-width="0.9"/><line x1="329.38" y1="163.7" x2="334.38" y2="163.7" stroke="#8a8a8a" stroke-width="0.9"/><line x1="329.38" y1="189.8" x2="334.38" y2="189.8" stroke="#8a8a8a" stroke-width="0.9"/><rect x="327.08" y="171.7" width="9.6" height="8.8" fill="#8e8e5e" stroke="#3c3c24" stroke-width="0.6"/><line x1="327.08" y1="174" x2="336.68" y2="174" stroke="#2a2a2a" stroke-width="0.8" stroke-opacity="0.8"/><line x1="346.89" y1="168.9" x2="356.49" y2="168.9" stroke="#555" stroke-width="0.8"/><rect x="203.1" y="148.3" width="158.5" height="104" fill="none" stroke="#858585" stroke-width="1.15"/><line x1="203.1" y1="252.3" x2="204.7" y2="252.3" stroke="#858585" stroke-width="1.15"/><text transform="translate(201.1,252.3) scale(1.0,1)" font-size="4.4" text-anchor="end" font-weight="bold" dominant-baseline="central">0.86</text><line x1="203.1" y1="226.3" x2="204.7" y2="226.3" stroke="#858585" stroke-width="1.15"/><text transform="translate(201.1,226.3) scale(1.0,1)" font-size="4.4" text-anchor="end" font-weight="bold" dominant-baseline="central">0.87</text><line x1="203.1" y1="200.3" x2="204.7" y2="200.3" stroke="#858585" stroke-width="1.15"/><text transform="translate(201.1,200.3) scale(1.0,1)" font-size="4.4" text-anchor="end" font-weight="bold" dominant-baseline="central">0.88</text><line x1="203.1" y1="174.3" x2="204.7" y2="174.3" stroke="#858585" stroke-width="1.15"/><text transform="translate(201.1,174.3) scale(1.0,1)" font-size="4.4" text-anchor="end" font-weight="bold" dominant-baseline="central">0.89</text><line x1="203.1" y1="148.3" x2="204.7" y2="148.3" stroke="#858585" stroke-width="1.15"/><text transform="translate(201.1,148.3) scale(1.0,1)" font-size="4.4" text-anchor="end" font-weight="bold" dominant-baseline="central">0.90</text><line x1="203.1" y1="239.3" x2="204.22" y2="239.3" stroke="#858585" stroke-width="1.15"/><line x1="203.1" y1="213.3" x2="204.22" y2="213.3" stroke="#858585" stroke-width="1.15"/><line x1="203.1" y1="187.3" x2="204.22" y2="187.3" stroke="#858585" stroke-width="1.15"/><line x1="203.1" y1="161.3" x2="204.22" y2="161.3" stroke="#858585" stroke-width="1.15"/><line x1="213.01" y1="252.3" x2="213.01" y2="250.7" stroke="#858585" stroke-width="1.15"/><text transform="translate(213.01,257) scale(1.0,1)" font-size="5.0" text-anchor="middle" font-weight="bold" dominant-baseline="central">1</text><line x1="232.82" y1="252.3" x2="232.82" y2="250.7" stroke="#858585" stroke-width="1.15"/><text transform="translate(232.82,257) scale(1.0,1)" font-size="5.0" text-anchor="middle" font-weight="bold" dominant-baseline="central">2</text><line x1="252.63" y1="252.3" x2="252.63" y2="250.7" stroke="#858585" stroke-width="1.15"/><text transform="translate(252.63,257) scale(1.0,1)" font-size="5.0" text-anchor="middle" font-weight="bold" dominant-baseline="central">3</text><line x1="272.44" y1="252.3" x2="272.44" y2="250.7" stroke="#858585" stroke-width="1.15"/><text transform="translate(272.44,257) scale(1.0,1)" font-size="5.0" text-anchor="middle" font-weight="bold" dominant-baseline="central">4</text><line x1="292.26" y1="252.3" x2="292.26" y2="250.7" stroke="#858585" stroke-width="1.15"/><text transform="translate(292.26,257) scale(1.0,1)" font-size="5.0" text-anchor="middle" font-weight="bold" dominant-baseline="central">5</text><line x1="312.07" y1="252.3" x2="312.07" y2="250.7" stroke="#858585" stroke-width="1.15"/><text transform="translate(312.07,257) scale(1.0,1)" font-size="5.0" text-anchor="middle" font-weight="bold" dominant-baseline="central">6</text><line x1="331.88" y1="252.3" x2="331.88" y2="250.7" stroke="#858585" stroke-width="1.15"/><text transform="translate(331.88,257) scale(1.0,1)" font-size="5.0" text-anchor="middle" font-weight="bold" dominant-baseline="central">7</text><line x1="351.69" y1="252.3" x2="351.69" y2="250.7" stroke="#858585" stroke-width="1.15"/><text transform="translate(351.69,257) scale(1.0,1)" font-size="5.0" text-anchor="middle" font-weight="bold" dominant-baseline="central">8</text><rect x="324" y="227.4" width="9.6" height="4.4" fill="#ff8213" stroke="#7a3e00" stroke-width="0.5"/><line x1="328.8" y1="232" x2="328.8" y2="237.5" stroke="#8a8a8a" stroke-width="0.9"/><line x1="326.3" y1="237.5" x2="331.3" y2="237.5" stroke="#666" stroke-width="0.9"/><line x1="325.7" y1="240.7" x2="331.9" y2="240.7" stroke="#777" stroke-width="0.7"/><rect x="328.3" y="246.4" width="1" height="1" fill="#bbb"/><text transform="translate(335.1,230.2) scale(1.0,1)" font-size="4.0" text-anchor="start" dominant-baseline="central" style="stroke-width:0.15px">25%-75%</text><text transform="translate(335.1,234.9) scale(1.0,1)" font-size="4.35" text-anchor="start" font-weight="bold" dominant-baseline="central" style="stroke-width:0.18px">Max-Min</text><text transform="translate(335.1,240.6) scale(1.0,1)" font-size="4.35" text-anchor="start" font-weight="bold" dominant-baseline="central" style="stroke-width:0.18px">Median value</text><text transform="translate(335.1,246.6) scale(1.0,1)" font-size="4.35" text-anchor="start" font-weight="bold" dominant-baseline="central" style="stroke-width:0.18px">Mean value</text></g>
<g><text transform="translate(462.65,144.6) scale(0.9,1)" font-size="7.6" text-anchor="middle" font-weight="bold" style="stroke-width:0.12px">Clay</text><text transform="translate(368.5,201.2) rotate(-90) scale(1,1.0)" font-size="5.6" text-anchor="middle" font-weight="bold" dominant-baseline="central">Cofficient of determination(R<tspan font-size="3.64" dy="-1.8">2</tspan><tspan dy="1.8">)</tspan></text><text transform="translate(462.65,264.2) scale(1.0,1)" font-size="4.35" text-anchor="middle" font-weight="bold" dominant-baseline="central">Number of channels in 2D spectral data</text><line x1="393.31" y1="171.3" x2="393.31" y2="239.4" stroke="#8a8a8a" stroke-width="0.9"/><line x1="390.81" y1="171.3" x2="395.81" y2="171.3" stroke="#8a8a8a" stroke-width="0.9"/><line x1="390.81" y1="239.4" x2="395.81" y2="239.4" stroke="#8a8a8a" stroke-width="0.9"/><rect x="388.51" y="174.8" width="9.6" height="52.5" fill="#ff8213" stroke="#7a3e00" stroke-width="0.6"/><line x1="388.51" y1="206.7" x2="398.11" y2="206.7" stroke="#2a2a2a" stroke-width="0.8" stroke-opacity="0.8"/><line x1="413.12" y1="166.5" x2="413.12" y2="221.3" stroke="#8a8a8a" stroke-width="0.9"/><line x1="410.62" y1="166.5" x2="415.62" y2="166.5" stroke="#8a8a8a" stroke-width="0.9"/><line x1="410.62" y1="221.3" x2="415.62" y2="221.3" stroke="#8a8a8a" stroke-width="0.9"/><rect x="408.32" y="172.8" width="9.6" height="40.8" fill="#3fbd3f" stroke="#1f5a1f" stroke-width="0.6"/><line x1="408.32" y1="176.3" x2="417.92" y2="176.3" stroke="#2a2a2a" stroke-width="0.8" stroke-opacity="0.8"/><line x1="432.93" y1="169.5" x2="432.93" y2="184.3" stroke="#8a8a8a" stroke-width="0.9"/><line x1="430.43" y1="169.5" x2="435.43" y2="169.5" stroke="#8a8a8a" stroke-width="0.9"/><line x1="430.43" y1="184.3" x2="435.43" y2="184.3" stroke="#8a8a8a" stroke-width="0.9"/><rect x="428.13" y="172.4" width="9.6" height="5.1" fill="#8c54c0" stroke="#3c2460" stroke-width="0.6"/><line x1="428.13" y1="174.5" x2="437.73" y2="174.5" stroke="#2a2a2a" stroke-width="0.8" stroke-opacity="0.8"/><line x1="452.74" y1="166.5" x2="452.74" y2="188.4" stroke="#8a8a8a" stroke-width="0.9"/><line x1="450.24" y1="166.5" x2="455.24" y2="166.5" stroke="#8a8a8a" stroke-width="0.9"/><line x1="450.24" y1="188.4" x2="455.24" y2="188.4" stroke="#8a8a8a" stroke-width="0.9"/><rect x="447.94" y="172.4" width="9.6" height="9" fill="#fff400" stroke="#6e6a00" stroke-width="0.6"/><line x1="447.94" y1="174.5" x2="457.54" y2="174.5" stroke="#2a2a2a" stroke-width="0.8" stroke-opacity="0.8"/><line x1="472.56" y1="168.5" x2="472.56" y2="177.3" stroke="#8a8a8a" stroke-width="0.9"/><line x1="470.06" y1="168.5" x2="475.06" y2="168.5" stroke="#8a8a8a" stroke-width="0.9"/><line x1="470.06" y1="177.3" x2="475.06" y2="177.3" stroke="#8a8a8a" stroke-width="0.9"/><rect x="467.76" y="170.5" width="9.6" height="3.4" fill="#1f6af0" stroke="#0c2f6e" stroke-width="0.6"/><line x1="467.76" y1="171.9" x2="477.36" y2="171.9" stroke="#2a2a2a" stroke-width="0.8" stroke-opacity="0.8"/><line x1="492.37" y1="169.6" x2="492.37" y2="176.2" stroke="#8a8a8a" stroke-width="0.9"/><line x1="489.87" y1="169.6" x2="494.87" y2="169.6" stroke="#8a8a8a" stroke-width="0.9"/><line x1="489.87" y1="176.2" x2="494.87" y2="176.2" stroke="#8a8a8a" stroke-width="0.9"/><rect x="487.57" y="171.1" width="9.6" height="2.8" fill="#6c006c" stroke="#2a002a" stroke-width="0.6"/><line x1="487.57" y1="172.4" x2="497.17" y2="172.4" stroke="#2a2a2a" stroke-width="0.8" stroke-opacity="0.8"/><line x1="512.18" y1="167.7" x2="512.18" y2="179.3" stroke="#8a8a8a" stroke-width="0.9"/><line x1="509.68" y1="167.7" x2="514.68" y2="167.7" stroke="#8a8a8a" stroke-width="0.9"/><line x1="509.68" y1="179.3" x2="514.68" y2="179.3" stroke="#8a8a8a" stroke-width="0.9"/><rect x="507.38" y="170.8" width="9.6" height="4.2" fill="#8e8e5e" stroke="#3c3c24" stroke-width="0.6"/><line x1="507.38" y1="172.4" x2="516.98" y2="172.4" stroke="#2a2a2a" stroke-width="0.8" stroke-opacity="0.8"/><line x1="527.19" y1="172.4" x2="536.79" y2="172.4" stroke="#555" stroke-width="0.8"/><rect x="383.4" y="148.3" width="158.5" height="104" fill="none" stroke="#858585" stroke-width="1.15"/><line x1="383.4" y1="241.35" x2="385" y2="241.35" stroke="#858585" stroke-width="1.15"/><text transform="translate(381.4,241.35) scale(1.0,1)" font-size="4.4" text-anchor="end" font-weight="bold" dominant-baseline="central">0.68</text><line x1="383.4" y1="219.46" x2="385" y2="219.46" stroke="#858585" stroke-width="1.15"/><text transform="translate(381.4,219.46) scale(1.0,1)" font-size="4.4" text-anchor="end" font-weight="bold" dominant-baseline="central">0.72</text><line x1="383.4" y1="197.56" x2="385" y2="197.56" stroke="#858585" stroke-width="1.15"/><text transform="translate(381.4,197.56) scale(1.0,1)" font-size="4.4" text-anchor="end" font-weight="bold" dominant-baseline="central">0.76</text><line x1="383.4" y1="175.67" x2="385" y2="175.67" stroke="#858585" stroke-width="1.15"/><text transform="translate(381.4,175.67) scale(1.0,1)" font-size="4.4" text-anchor="end" font-weight="bold" dominant-baseline="central">0.80</text><line x1="383.4" y1="153.77" x2="385" y2="153.77" stroke="#858585" stroke-width="1.15"/><text transform="translate(381.4,153.77) scale(1.0,1)" font-size="4.4" text-anchor="end" font-weight="bold" dominant-baseline="central">0.84</text><line x1="383.4" y1="230.41" x2="384.52" y2="230.41" stroke="#858585" stroke-width="1.15"/><line x1="383.4" y1="208.51" x2="384.52" y2="208.51" stroke="#858585" stroke-width="1.15"/><line x1="383.4" y1="186.62" x2="384.52" y2="186.62" stroke="#858585" stroke-width="1.15"/><line x1="383.4" y1="164.72" x2="384.52" y2="164.72" stroke="#858585" stroke-width="1.15"/><line x1="393.31" y1="252.3" x2="393.31" y2="250.7" stroke="#858585" stroke-width="1.15"/><text transform="translate(393.31,257) scale(1.0,1)" font-size="5.0" text-anchor="middle" font-weight="bold" dominant-baseline="central">1</text><line x1="413.12" y1="252.3" x2="413.12" y2="250.7" stroke="#858585" stroke-width="1.15"/><text transform="translate(413.12,257) scale(1.0,1)" font-size="5.0" text-anchor="middle" font-weight="bold" dominant-baseline="central">2</text><line x1="432.93" y1="252.3" x2="432.93" y2="250.7" stroke="#858585" stroke-width="1.15"/><text transform="translate(432.93,257) scale(1.0,1)" font-size="5.0" text-anchor="middle" font-weight="bold" dominant-baseline="central">3</text><line x1="452.74" y1="252.3" x2="452.74" y2="250.7" stroke="#858585" stroke-width="1.15"/><text transform="translate(452.74,257) scale(1.0,1)" font-size="5.0" text-anchor="middle" font-weight="bold" dominant-baseline="central">4</text><line x1="472.56" y1="252.3" x2="472.56" y2="250.7" stroke="#858585" stroke-width="1.15"/><text transform="translate(472.56,257) scale(1.0,1)" font-size="5.0" text-anchor="middle" font-weight="bold" dominant-baseline="central">5</text><line x1="492.37" y1="252.3" x2="492.37" y2="250.7" stroke="#858585" stroke-width="1.15"/><text transform="translate(492.37,257) scale(1.0,1)" font-size="5.0" text-anchor="middle" font-weight="bold" dominant-baseline="central">6</text><line x1="512.18" y1="252.3" x2="512.18" y2="250.7" stroke="#858585" stroke-width="1.15"/><text transform="translate(512.18,257) scale(1.0,1)" font-size="5.0" text-anchor="middle" font-weight="bold" dominant-baseline="central">7</text><line x1="531.99" y1="252.3" x2="531.99" y2="250.7" stroke="#858585" stroke-width="1.15"/><text transform="translate(531.99,257) scale(1.0,1)" font-size="5.0" text-anchor="middle" font-weight="bold" dominant-baseline="central">8</text><rect x="503.5" y="225.4" width="9.6" height="4.4" fill="#ff8213" stroke="#7a3e00" stroke-width="0.5"/><line x1="508.3" y1="230" x2="508.3" y2="235.5" stroke="#8a8a8a" stroke-width="0.9"/><line x1="505.8" y1="235.5" x2="510.8" y2="235.5" stroke="#666" stroke-width="0.9"/><line x1="505.2" y1="238.7" x2="511.4" y2="238.7" stroke="#777" stroke-width="0.7"/><rect x="507.8" y="244.4" width="1" height="1" fill="#bbb"/><text transform="translate(514.6,228.2) scale(1.0,1)" font-size="4.0" text-anchor="start" dominant-baseline="central" style="stroke-width:0.15px">25%-75%</text><text transform="translate(514.6,232.9) scale(1.0,1)" font-size="4.35" text-anchor="start" font-weight="bold" dominant-baseline="central" style="stroke-width:0.18px">Max-Min</text><text transform="translate(514.6,238.6) scale(1.0,1)" font-size="4.35" text-anchor="start" font-weight="bold" dominant-baseline="central" style="stroke-width:0.18px">Median value</text><text transform="translate(514.6,244.6) scale(1.0,1)" font-size="4.35" text-anchor="start" font-weight="bold" dominant-baseline="central" style="stroke-width:0.18px">Mean value</text></g>
<g><text transform="translate(101.85,276.9) scale(0.9,1)" font-size="7.6" text-anchor="middle" font-weight="bold" style="stroke-width:0.12px">Sand</text><text transform="translate(7.7,333.5) rotate(-90) scale(1,1.0)" font-size="5.6" text-anchor="middle" font-weight="bold" dominant-baseline="central">Cofficient of determination(R<tspan font-size="3.64" dy="-1.8">2</tspan><tspan dy="1.8">)</tspan></text><line x1="32.51" y1="335.5" x2="32.51" y2="377.3" stroke="#8a8a8a" stroke-width="0.9"/><line x1="30.01" y1="335.5" x2="35.01" y2="335.5" stroke="#8a8a8a" stroke-width="0.9"/><line x1="30.01" y1="377.3" x2="35.01" y2="377.3" stroke="#8a8a8a" stroke-width="0.9"/><rect x="27.71" y="338" width="9.6" height="33" fill="#ff8213" stroke="#7a3e00" stroke-width="0.6"/><line x1="27.71" y1="359.4" x2="37.31" y2="359.4" stroke="#2a2a2a" stroke-width="0.8" stroke-opacity="0.8"/><line x1="52.32" y1="314.6" x2="52.32" y2="367.1" stroke="#8a8a8a" stroke-width="0.9"/><line x1="49.82" y1="314.6" x2="54.82" y2="314.6" stroke="#8a8a8a" stroke-width="0.9"/><line x1="49.82" y1="367.1" x2="54.82" y2="367.1" stroke="#8a8a8a" stroke-width="0.9"/><rect x="47.52" y="332.6" width="9.6" height="19.7" fill="#3fbd3f" stroke="#1f5a1f" stroke-width="0.6"/><line x1="47.52" y1="336.3" x2="57.12" y2="336.3" stroke="#2a2a2a" stroke-width="0.8" stroke-opacity="0.8"/><line x1="72.13" y1="297.5" x2="72.13" y2="364.9" stroke="#8a8a8a" stroke-width="0.9"/><line x1="69.63" y1="297.5" x2="74.63" y2="297.5" stroke="#8a8a8a" stroke-width="0.9"/><line x1="69.63" y1="364.9" x2="74.63" y2="364.9" stroke="#8a8a8a" stroke-width="0.9"/><rect x="67.33" y="308.9" width="9.6" height="47.6" fill="#8c54c0" stroke="#3c2460" stroke-width="0.6"/><line x1="67.33" y1="327.1" x2="76.93" y2="327.1" stroke="#2a2a2a" stroke-width="0.8" stroke-opacity="0.8"/><line x1="91.94" y1="308.5" x2="91.94" y2="364.9" stroke="#8a8a8a" stroke-width="0.9"/><line x1="89.44" y1="308.5" x2="94.44" y2="308.5" stroke="#8a8a8a" stroke-width="0.9"/><line x1="89.44" y1="364.9" x2="94.44" y2="364.9" stroke="#8a8a8a" stroke-width="0.9"/><rect x="87.14" y="311.8" width="9.6" height="24.7" fill="#fff400" stroke="#6e6a00" stroke-width="0.6"/><line x1="87.14" y1="326.6" x2="96.74" y2="326.6" stroke="#2a2a2a" stroke-width="0.8" stroke-opacity="0.8"/><line x1="111.76" y1="295.1" x2="111.76" y2="348.5" stroke="#8a8a8a" stroke-width="0.9"/><line x1="109.26" y1="295.1" x2="114.26" y2="295.1" stroke="#8a8a8a" stroke-width="0.9"/><line x1="109.26" y1="348.5" x2="114.26" y2="348.5" stroke="#8a8a8a" stroke-width="0.9"/><rect x="106.96" y="313.1" width="9.6" height="22" fill="#1f6af0" stroke="#0c2f6e" stroke-width="0.6"/><line x1="106.96" y1="320.4" x2="116.56" y2="320.4" stroke="#2a2a2a" stroke-width="0.8" stroke-opacity="0.8"/><line x1="131.57" y1="302.3" x2="131.57" y2="320.4" stroke="#8a8a8a" stroke-width="0.9"/><line x1="129.07" y1="302.3" x2="134.07" y2="302.3" stroke="#8a8a8a" stroke-width="0.9"/><line x1="129.07" y1="320.4" x2="134.07" y2="320.4" stroke="#8a8a8a" stroke-width="0.9"/><rect x="126.77" y="309.5" width="9.6" height="5.8" fill="#6c006c" stroke="#2a002a" stroke-width="0.6"/><line x1="126.77" y1="312.1" x2="136.37" y2="312.1" stroke="#2a2a2a" stroke-width="0.8" stroke-opacity="0.8"/><line x1="151.38" y1="299.4" x2="151.38" y2="334.7" stroke="#8a8a8a" stroke-width="0.9"/><line x1="148.88" y1="299.4" x2="153.88" y2="299.4" stroke="#8a8a8a" stroke-width="0.9"/><line x1="148.88" y1="334.7" x2="153.88" y2="334.7" stroke="#8a8a8a" stroke-width="0.9"/><rect x="146.58" y="308.5" width="9.6" height="10.9" fill="#8e8e5e" stroke="#3c3c24" stroke-width="0.6"/><line x1="146.58" y1="314.3" x2="156.18" y2="314.3" stroke="#2a2a2a" stroke-width="0.8" stroke-opacity="0.8"/><line x1="166.39" y1="316" x2="175.99" y2="316" stroke="#555" stroke-width="0.8"/><rect x="22.6" y="280.6" width="158.5" height="104" fill="none" stroke="#858585" stroke-width="1.15"/><line x1="22.6" y1="384.6" x2="24.2" y2="384.6" stroke="#858585" stroke-width="1.15"/><text transform="translate(20.6,384.6) scale(1.0,1)" font-size="4.4" text-anchor="end" font-weight="bold" dominant-baseline="central">0.64</text><line x1="22.6" y1="363.8" x2="24.2" y2="363.8" stroke="#858585" stroke-width="1.15"/><text transform="translate(20.6,363.8) scale(1.0,1)" font-size="4.4" text-anchor="end" font-weight="bold" dominant-baseline="central">0.66</text><line x1="22.6" y1="343" x2="24.2" y2="343" stroke="#858585" stroke-width="1.15"/><text transform="translate(20.6,343) scale(1.0,1)" font-size="4.4" text-anchor="end" font-weight="bold" dominant-baseline="central">0.68</text><line x1="22.6" y1="322.2" x2="24.2" y2="322.2" stroke="#858585" stroke-width="1.15"/><text transform="translate(20.6,322.2) scale(1.0,1)" font-size="4.4" text-anchor="end" font-weight="bold" dominant-baseline="central">0.70</text><line x1="22.6" y1="301.4" x2="24.2" y2="301.4" stroke="#858585" stroke-width="1.15"/><text transform="translate(20.6,301.4) scale(1.0,1)" font-size="4.4" text-anchor="end" font-weight="bold" dominant-baseline="central">0.72</text><line x1="22.6" y1="280.6" x2="24.2" y2="280.6" stroke="#858585" stroke-width="1.15"/><text transform="translate(20.6,280.6) scale(1.0,1)" font-size="4.4" text-anchor="end" font-weight="bold" dominant-baseline="central">0.74</text><line x1="22.6" y1="374.2" x2="23.72" y2="374.2" stroke="#858585" stroke-width="1.15"/><line x1="22.6" y1="353.4" x2="23.72" y2="353.4" stroke="#858585" stroke-width="1.15"/><line x1="22.6" y1="332.6" x2="23.72" y2="332.6" stroke="#858585" stroke-width="1.15"/><line x1="22.6" y1="311.8" x2="23.72" y2="311.8" stroke="#858585" stroke-width="1.15"/><line x1="22.6" y1="291" x2="23.72" y2="291" stroke="#858585" stroke-width="1.15"/><line x1="32.51" y1="384.6" x2="32.51" y2="383" stroke="#858585" stroke-width="1.15"/><text transform="translate(32.51,389.8) scale(1.0,1)" font-size="5.0" text-anchor="middle" font-weight="bold" dominant-baseline="central">1</text><line x1="52.32" y1="384.6" x2="52.32" y2="383" stroke="#858585" stroke-width="1.15"/><text transform="translate(52.32,389.8) scale(1.0,1)" font-size="5.0" text-anchor="middle" font-weight="bold" dominant-baseline="central">2</text><line x1="72.13" y1="384.6" x2="72.13" y2="383" stroke="#858585" stroke-width="1.15"/><text transform="translate(72.13,389.8) scale(1.0,1)" font-size="5.0" text-anchor="middle" font-weight="bold" dominant-baseline="central">3</text><line x1="91.94" y1="384.6" x2="91.94" y2="383" stroke="#858585" stroke-width="1.15"/><text transform="translate(91.94,389.8) scale(1.0,1)" font-size="5.0" text-anchor="middle" font-weight="bold" dominant-baseline="central">4</text><line x1="111.76" y1="384.6" x2="111.76" y2="383" stroke="#858585" stroke-width="1.15"/><text transform="translate(111.76,389.8) scale(1.0,1)" font-size="5.0" text-anchor="middle" font-weight="bold" dominant-baseline="central">5</text><line x1="131.57" y1="384.6" x2="131.57" y2="383" stroke="#858585" stroke-width="1.15"/><text transform="translate(131.57,389.8) scale(1.0,1)" font-size="5.0" text-anchor="middle" font-weight="bold" dominant-baseline="central">6</text><line x1="151.38" y1="384.6" x2="151.38" y2="383" stroke="#858585" stroke-width="1.15"/><text transform="translate(151.38,389.8) scale(1.0,1)" font-size="5.0" text-anchor="middle" font-weight="bold" dominant-baseline="central">7</text><line x1="171.19" y1="384.6" x2="171.19" y2="383" stroke="#858585" stroke-width="1.15"/><text transform="translate(171.19,389.8) scale(1.0,1)" font-size="5.0" text-anchor="middle" font-weight="bold" dominant-baseline="central">8</text><rect x="144.1" y="359.5" width="9.6" height="4.4" fill="#ff8213" stroke="#7a3e00" stroke-width="0.5"/><line x1="148.9" y1="364.1" x2="148.9" y2="369.6" stroke="#8a8a8a" stroke-width="0.9"/><line x1="146.4" y1="369.6" x2="151.4" y2="369.6" stroke="#666" stroke-width="0.9"/><line x1="145.8" y1="372.8" x2="152" y2="372.8" stroke="#777" stroke-width="0.7"/><rect x="148.4" y="378.5" width="1" height="1" fill="#bbb"/><text transform="translate(155.2,362.3) scale(1.0,1)" font-size="4.0" text-anchor="start" dominant-baseline="central" style="stroke-width:0.15px">25%-75%</text><text transform="translate(155.2,367) scale(1.0,1)" font-size="4.35" text-anchor="start" font-weight="bold" dominant-baseline="central" style="stroke-width:0.18px">Max-Min</text><text transform="translate(155.2,372.7) scale(1.0,1)" font-size="4.35" text-anchor="start" font-weight="bold" dominant-baseline="central" style="stroke-width:0.18px">Median value</text><text transform="translate(155.2,378.7) scale(1.0,1)" font-size="4.35" text-anchor="start" font-weight="bold" dominant-baseline="central" style="stroke-width:0.18px">Mean value</text></g>
</svg>
</body></html>
